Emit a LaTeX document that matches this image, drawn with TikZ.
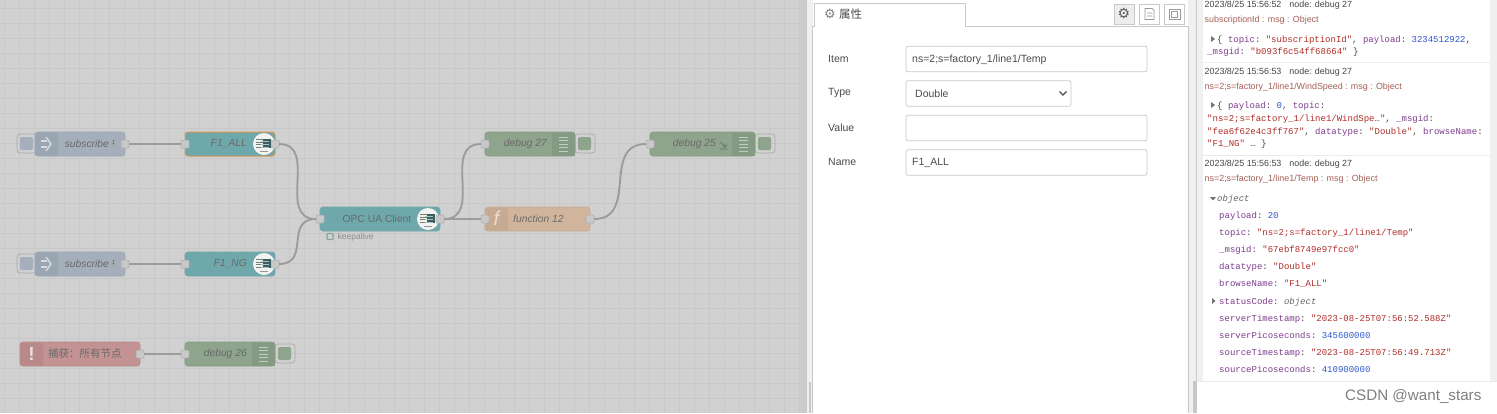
\documentclass[tikz,border=0pt]{standalone}
\usepackage{fontspec}
\setmainfont{Liberation Sans}
\setmonofont{Liberation Mono}
\newfontfamily\cjkfont{Noto Sans CJK SC}
\newfontfamily\symbfont{DejaVu Sans}
\usetikzlibrary{positioning}
\definecolor{nrcanvas}{RGB}{209,209,209}
\definecolor{nrgrid}{RGB}{200,200,200}
\definecolor{nrtext}{RGB}{105,105,105}
\definecolor{nrwire}{RGB}{156,156,156}
\definecolor{nrport}{RGB}{200,200,200}
\definecolor{nredge}{RGB}{170,170,170}
\definecolor{nrslate}{RGB}{165,175,187}
\definecolor{nrslate2}{RGB}{154,165,178}
\definecolor{nrteal}{RGB}{111,168,171}
\definecolor{nrorange}{RGB}{214,152,84}
\definecolor{nrgreen}{RGB}{143,164,140}
\definecolor{nrgreen2}{RGB}{132,154,130}
\definecolor{nrtan}{RGB}{208,181,156}
\definecolor{nrtan2}{RGB}{198,171,146}
\definecolor{nrred}{RGB}{195,147,147}
\definecolor{nrred2}{RGB}{185,137,137}
\definecolor{panelline}{RGB}{200,200,200}
\definecolor{panelgrey}{RGB}{240,240,240}
\definecolor{metatext}{RGB}{70,70,70}
\definecolor{metared}{RGB}{165,95,85}
\definecolor{jsonkey}{RGB}{125,60,140}
\definecolor{jsonstr}{RGB}{175,45,40}
\definecolor{jsonnum}{RGB}{45,85,210}
\newcommand{\jk}[1]{\textcolor{jsonkey}{#1}}
\newcommand{\js}[1]{\textcolor{jsonstr}{#1}}
\newcommand{\jn}[1]{\textcolor{jsonnum}{#1}}
\tikzstyle{flownode} = [rectangle, rounded corners=3pt, minimum height=24pt, inner sep=0pt, outer sep=0pt, line width=0.6pt]
\tikzstyle{slatenode} = [flownode, fill=nrslate, draw=nrslate2, minimum width=90pt]
\tikzstyle{tealnode} = [flownode, fill=nrteal, draw=nrteal, minimum width=90pt]
\tikzstyle{greennode} = [flownode, fill=nrgreen, draw=nrgreen2, minimum width=90pt]
\tikzstyle{port} = [rectangle, rounded corners=1pt, minimum size=8pt, inner sep=0pt, outer sep=0pt, fill=nrport, draw=nredge, line width=0.5pt]
\tikzstyle{wire} = [line width=1.9pt, color=nrwire]
\tikzstyle{flowlabel} = [inner sep=0pt, font=\fontsize{10.3}{12}\selectfont\itshape, text=nrtext]
\tikzstyle{btnouter} = [rectangle, rounded corners=3pt, minimum width=20pt, minimum height=19pt, inner sep=0pt, draw=nrgrid!85!black, line width=0.7pt]
\tikzstyle{btninner} = [rectangle, rounded corners=2pt, minimum size=13pt, inner sep=0pt]
\tikzstyle{inputbox} = [rectangle, rounded corners=2pt, inner sep=0pt, draw=panelline, fill=white, line width=0.7pt, minimum height=25.5pt]
\tikzstyle{formlabel} = [inner sep=0pt, anchor=west, font=\fontsize{10.5}{12}\selectfont, text=black!70]
\tikzstyle{toolbtn} = [rectangle, inner sep=0pt, minimum width=20pt, minimum height=20pt, draw=panelline, line width=0.8pt, fill=white]
\tikzstyle{meta} = [inner sep=0pt, anchor=west, font=\fontsize{8.9}{11}\selectfont, text=metatext]
\tikzstyle{metab} = [inner sep=0pt, anchor=west, font=\fontsize{8.9}{11}\selectfont, text=metared]
\tikzstyle{json} = [inner sep=0pt, anchor=base west, font=\ttfamily\fontsize{9}{11}\selectfont, text=metatext]
\tikzset{
  opcmark/.pic={
    \fill[white!72!nrcanvas] (0,0) circle (11);
    \foreach \a in {-5,-2.5,0,2.5} \fill[nrgreen2!85!black] (-8,\a) rectangle (1,\a+0.8);
    \fill[nrteal!55!black] (-1,-5) rectangle (7,4);
    \foreach \a in {-3,0,3} \fill[white!35!nrteal] (-3,\a-.4) rectangle (5,\a+.4);
    \fill[nrtext!70!white] (-4,7) rectangle (4,7.8);
  },
  debuglines/.pic={
    \foreach \a in {-7,-3.5,0,3.5,7} \fill[white!45!nrgreen] (-4.5,\a-.5) rectangle (4.5,\a+.5);
  }
}
\begin{document}
\begin{tikzpicture}[x=1pt, y=-1pt]
    \useasboundingbox (0,0) rectangle (1497,413);

    % Canvas
    \fill[nrcanvas] (0,0) rectangle (806,413);
    \foreach \x in {4.5,19.5,...,799.5} \draw[nrgrid, line width=1pt] (\x,0) -- (\x,413);
    \foreach \y in {8.5,23.5,...,413} \draw[nrgrid, line width=1pt] (0,\y) -- (806,\y);
    \fill[nrgrid!60!nrcanvas] (800,0) rectangle (806,413);

    % Inject and debug buttons
    \node[btnouter] (subbtnone) at (27,143.5) {};
    \node[btninner, fill=nrslate] (subinnerone) at (26.5,143.5) {};
    \node[btnouter] (subbtntwo) at (27,263.5) {};
    \node[btninner, fill=nrslate] (subinnertwo) at (26.5,263.5) {};
    \node[btnouter] (btntwoseven) at (585,143.5) {};
    \node[btninner, fill=nrgreen] (innertwoseven) at (584.5,143.5) {};
    \node[btnouter] (btntwofive) at (765,143.5) {};
    \node[btninner, fill=nrgreen] (innertwofive) at (764.5,143.5) {};
    \node[btnouter] (btntwosix) at (285,353.5) {};
    \node[btninner, fill=nrgreen] (innertwosix) at (284.5,353.5) {};

    % Flow nodes
    \node[slatenode] (subone) at (80,144) {};
    \node[slatenode] (subtwo) at (80,264) {};
    \node[tealnode, draw=nrorange, line width=1pt] (fall) at (230,144) {};
    \node[tealnode] (fng) at (230,264) {};
    \node[tealnode, minimum width=120pt] (client) at (380,219) {};
    \node[greennode] (dbgtwoseven) at (530,144) {};
    \node[flownode, fill=nrtan, draw=nrtan2, minimum width=105pt] (func) at (537.5,219) {};
    \node[greennode, minimum width=105pt] (dbgtwofive) at (702.5,144) {};
    \node[flownode, fill=nrred, draw=nrred2, minimum width=120pt] (catch) at (80,354) {};
    \node[greennode] (dbgtwosix) at (230,354) {};

    % Icon areas
    \fill[nrslate2, rounded corners=3pt] (35.5,155.5) -- (35.5,132.5) -- (58,132.5) [sharp corners] -- (58,155.5) -- cycle;
    \fill[nrslate2, rounded corners=3pt] (35.5,275.5) -- (35.5,252.5) -- (58,252.5) [sharp corners] -- (58,275.5) -- cycle;
    \fill[nrtan2, rounded corners=3pt] (485.5,230.5) -- (485.5,207.5) -- (508,207.5) [sharp corners] -- (508,230.5) -- cycle;
    \fill[nrred2, rounded corners=3pt] (20.5,365.5) -- (20.5,342.5) -- (43,342.5) [sharp corners] -- (43,365.5) -- cycle;
    \fill[nrgreen2] (552,132.5) rectangle (574.5,155.5);
    \fill[nrgreen2] (732,132.5) rectangle (754.5,155.5);
    \fill[nrgreen2] (252,342.5) rectangle (274.5,365.5);

    % Icons
    \foreach \y in {144,264} {
        \draw[white!55!nrslate, line width=1.5pt] (41,\y-3) -- (47,\y-3) (41,\y+3) -- (47,\y+3);
        \draw[white!55!nrslate, line width=1.5pt] (46,\y-7) -- (51,\y) -- (46,\y+7);
    }
    \pic at (264,144) {opcmark};
    \pic at (264,264) {opcmark};
    \pic at (428,219) {opcmark};
    \pic at (563.5,144) {debuglines};
    \pic at (743.5,144) {debuglines};
    \pic at (263.5,354) {debuglines};
    \node[inner sep=0pt, font=\fontsize{20}{20}\selectfont\itshape, text=white!55!nrtan] (funcicon) at (496.5,218) {f};
    \node[inner sep=0pt, font=\fontsize{19}{19}\selectfont\bfseries, text=white!70!nrred] (catchicon) at (31.5,354) {!};
    \draw[nrtext, line width=0.7pt] (720,142) -- (726,147) (726,143.5) -- (726,147) -- (722.5,147) (720,149) -- (727,149);

    % Node labels
    \node[flowlabel] (sublabelone) at (90,144) {subscribe ¹};
    \node[flowlabel] (sublabeltwo) at (90,264) {subscribe ¹};
    \node[flowlabel, anchor=east] (falllabel) at (247,144) {F1\_ALL};
    \node[flowlabel, anchor=east] (fnglabel) at (247,264) {F1\_NG};
    \node[flowlabel, font=\fontsize{10.3}{12}\selectfont] (clientlabel) at (377,219) {OPC UA Client};
    \node[flowlabel, anchor=east] (dbgtwosevenlabel) at (547,144) {debug 27};
    \node[flowlabel, anchor=west] (funclabel) at (513,219) {function 12};
    \node[flowlabel, anchor=east] (dbgtwofivelabel) at (716,144) {debug 25};
    \node[flowlabel, anchor=east] (dbgtwosixlabel) at (247,354) {debug 26};
    \node[flowlabel, anchor=west, font=\cjkfont\fontsize{10.5}{12}\selectfont] (catchlabel) at (48,354) {捕获：所有节点};

    % Status
    \node[rectangle, rounded corners=1pt, minimum size=6pt, inner sep=0pt, draw=nrgreen!60!nrteal, line width=1.4pt, fill=nrcanvas] (keepdot) at (330,236.5) {};
    \node[inner sep=0pt, anchor=west, font=\fontsize{8.5}{10}\selectfont, text=black!45] (keeplabel) at (337.5,237) {keepalive};

    % Ports
    \node[port] (subone-out) at (125,144) {};
    \node[port] (subtwo-out) at (125,264) {};
    \node[port] (fall-in) at (185,144) {};
    \node[port] (fall-out) at (275,144) {};
    \node[port] (fng-in) at (185,264) {};
    \node[port] (fng-out) at (275,264) {};
    \node[port] (client-in) at (320,219) {};
    \node[port] (client-out) at (440,219) {};
    \node[port] (func-in) at (485,219) {};
    \node[port] (func-out) at (590,219) {};
    \node[port] (dbgtwoseven-in) at (485,144) {};
    \node[port] (dbgtwofive-in) at (650,144) {};
    \node[port] (catch-out) at (140,354) {};
    \node[port] (dbgtwosix-in) at (185,354) {};

    % Wires
    \draw[wire] (subone-out) -- (fall-in);
    \draw[wire] (subtwo-out) -- (fng-in);
    \draw[wire] (catch-out) -- (dbgtwosix-in);
    \draw[wire] (client-out) -- (func-in);
    \draw[wire] (fall-out.east) .. controls +(40,0) and +(-40,0) .. (client-in.west);
    \draw[wire] (fng-out.east) .. controls +(32,0) and +(-32,0) .. (client-in.west);
    \draw[wire] (client-out.east) .. controls +(40,0) and +(-40,0) .. (dbgtwoseven-in.west);
    \draw[wire] (func-out.east) .. controls +(45,0) and +(-45,0) .. (dbgtwofive-in.west);

    % Side panel
    \fill[panelgrey] (806,0) rectangle (1203,413);
    \fill[white] (813,0) rectangle (1188,413);
    \draw[panelline, line width=1pt] (806.5,0) -- (806.5,413) (812.5,26) -- (812.5,413) (1188.5,26) -- (1188.5,413) (1196.5,0) -- (1196.5,413);
    \draw[panelline, line width=0.9pt] (812.5,26) -- (814.5,26) -- (814.5,3.5) -- (965,3.5) -- (965,26) -- (1188.5,26);
    \node[inner sep=0pt, anchor=west, font=\fontsize{11.5}{12}\selectfont, text=black!70] (tablabel) at (824,14.5) {{\symbfont\fontsize{13}{13}\selectfont\textcolor{black!50}{⚙}} {\cjkfont 属性}};
    \node[toolbtn, fill=black!7] (gearbtn) at (1124,14) {\symbfont\fontsize{14}{14}\selectfont\textcolor{black!65}{⚙}};
    \node[toolbtn] (docbtn) at (1149.5,14) {};
    \node[toolbtn] (framebtn) at (1174.5,14) {};
    \draw[black!40, line width=0.7pt] (1145,8.5) -- (1152,8.5) -- (1154,10.5) -- (1154,19.5) -- (1145,19.5) -- cycle (1147,13) -- (1152,13) (1147,16) -- (1152,16);
    \draw[black!40, line width=0.7pt] (1169,9) rectangle (1180,19) (1171.5,11) rectangle (1177.5,17);

    % Form
    \node[formlabel] (itemlabel) at (828,59) {Item};
    \node[formlabel] (typelabel) at (828,92.5) {Type};
    \node[formlabel] (valuelabel) at (828,128) {Value};
    \node[formlabel] (namelabel) at (828,162) {Name};
    \node[inputbox, minimum width=241pt] (itembox) at (1026.5,59) {};
    \node[inputbox, minimum width=165pt] (typebox) at (988.5,93.5) {};
    \node[inputbox, minimum width=241pt] (valuebox) at (1026.5,128) {};
    \node[inputbox, minimum width=241pt] (namebox) at (1026.5,162.5) {};
    \node[formlabel] (itemvalue) at (912,60) {ns=2;s=factory\_1/line1/Temp};
    \node[formlabel] (typevalue) at (915,93.5) {Double};
    \node[formlabel] (namevalue) at (912,163) {F1\_ALL};
    \draw[black!70, line width=1.3pt] (1059.5,91.5) -- (1063,95) -- (1066.5,91.5);

    % Debug panel
    \fill[white] (1203,0) rectangle (1490,381);
    \fill[panelgrey] (1490,0) rectangle (1497,381);
    \fill[white] (1197,381) rectangle (1497,413);
    \fill[panelline] (1193,381) rectangle (1195.5,413);
    \fill[panelline] (809,382) rectangle (811,413);
    \draw[black!8, line width=1pt] (1203,62) -- (1490,62) (1203,155) -- (1490,155) (1197,381) -- (1497,381);

    % Debug messages
    \node[meta] (stampone) at (1204.5,5) {2023/8/25 15:56:52\hspace{8pt}node: debug 27};
    \node[metab] (topicone) at (1204.5,20) {subscriptionId : msg : Object};
    \node[meta] (stamptwo) at (1204.5,72) {2023/8/25 15:56:53\hspace{8pt}node: debug 27};
    \node[metab] (topictwo) at (1204.5,87) {ns=2;s=factory\_1/line1/WindSpeed : msg : Object};
    \node[meta] (stampthree) at (1204.5,164) {2023/8/25 15:56:53\hspace{8pt}node: debug 27};
    \node[metab] (topicthree) at (1204.5,179) {ns=2;s=factory\_1/line1/Temp : msg : Object};
    \fill[black!55] (1211,36) -- (1215,39) -- (1211,42) -- cycle;
    \fill[black!55] (1211,102) -- (1215,105) -- (1211,108) -- cycle;
    \fill[black!55] (1210,197) -- (1216,197) -- (1213,200.5) -- cycle;
    \fill[black!55] (1212,298) -- (1215.5,301) -- (1212,304) -- cycle;

    \node[json] (msgoneA) at (1217,42) {\{ \jk{topic}: \js{"subscriptionId"}, \jk{payload}: \jn{3234512922},};
    \node[json] (msgoneB) at (1207,54) {\jk{\_msgid}: \js{"b093f6c54ff68664"} \}};
    \node[json] (msgtwoA) at (1217,108) {\{ \jk{payload}: \jn{0}, \jk{topic}:};
    \node[json] (msgtwoB) at (1207,121) {\js{"ns=2;s=factory\_1/line1/WindSpe…"}, \jk{\_msgid}:};
    \node[json] (msgtwoC) at (1207,134) {\js{"fea6f62e4c3ff767"}, \jk{datatype}: \js{"Double"}, \jk{browseName}:};
    \node[json] (msgtwoD) at (1207,146) {\js{"F1\_NG"} … \}};
    \node[json] (objrow) at (1217,201) {\textcolor{black!60}{\itshape object}};
    \foreach \y/\txt in {
        218/{\jk{payload}: \jn{20}},
        235/{\jk{topic}: \js{"ns=2;s=factory\_1/line1/Temp"}},
        252/{\jk{\_msgid}: \js{"67ebf8749e97fcc0"}},
        269/{\jk{datatype}: \js{"Double"}},
        286/{\jk{browseName}: \js{"F1\_ALL"}},
        304/{\jk{statusCode}: \textcolor{black!60}{\itshape object}},
        321/{\jk{serverTimestamp}: \js{"2023-08-25T07:56:52.588Z"}},
        338/{\jk{serverPicoseconds}: \jn{345600000}},
        355/{\jk{sourceTimestamp}: \js{"2023-08-25T07:56:49.713Z"}},
        372/{\jk{sourcePicoseconds}: \jn{410900000}}
    } {
        \node[json] (row\y) at (1219,\y) {\txt};
    }

    % Watermark
    \node[inner sep=0pt, anchor=west, font=\fontsize{15.2}{16}\selectfont, text=black!50] (watermark) at (1345,396.5) {CSDN @want\_stars};
\end{tikzpicture}
\end{document}
